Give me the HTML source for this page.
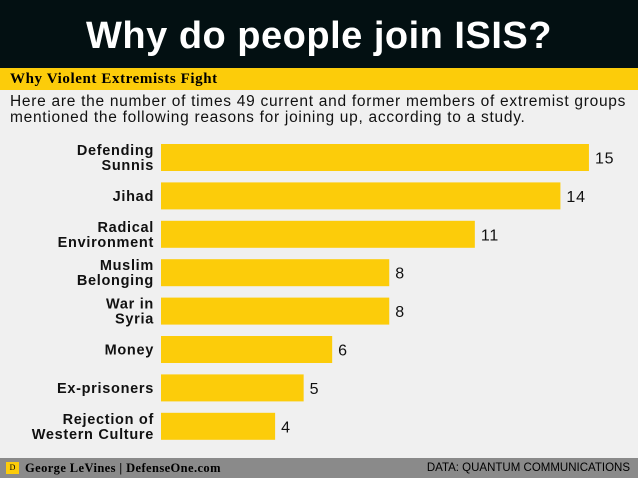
<!DOCTYPE html>
<html><head><meta charset="utf-8"><style>
body{margin:0;width:638px;height:478px;background:#f0f0f0;font-family:"Liberation Sans",sans-serif;position:relative;overflow:hidden}
#hdr{position:absolute;left:0;top:0;width:638px;height:68px;background:#031012;color:#fff;font-size:38px;text-align:center;line-height:72px;font-weight:bold;letter-spacing:0.5px}
#band{position:absolute;left:0;top:68px;width:638px;height:22px;background:#fccc0a;font-family:"Liberation Serif",serif;font-weight:bold;font-size:15px;line-height:22px;padding-left:10px;box-sizing:border-box;letter-spacing:0.6px}
#sub{position:absolute;left:10px;top:94px;font-size:15.5px;line-height:16px;color:#111;letter-spacing:0.72px;white-space:nowrap}
#ftr{position:absolute;left:0;top:458px;width:638px;height:20px;background:#8a8a8a;font-size:12px;line-height:20px}
</style></head><body>
<div id="hdr">Why do people join ISIS?</div>
<div id="band">Why Violent Extremists Fight</div>
<div id="sub">Here are the number of times 49 current and former members of extremist groups<br>mentioned the following reasons for joining up, according to a study.</div>
<svg id="chart" width="638" height="478" style="position:absolute;left:0;top:0"></svg>
<div id="ftr">
<span style="position:absolute;left:6px;top:4px;width:13px;height:12px;background:#fccc0a;font-family:'Liberation Serif',serif;font-size:8px;line-height:12px;text-align:center">D</span>
<span style="position:absolute;left:25px;font-family:'Liberation Serif',serif;font-weight:bold;font-size:12.5px;letter-spacing:0.4px">George LeVines | DefenseOne.com</span>
<span style="position:absolute;right:8px;font-size:11.5px">DATA: QUANTUM COMMUNICATIONS</span>
</div>
<script>
const categories=[["Defending","Sunnis"],["Jihad"],["Radical","Environment"],["Muslim","Belonging"],["War in","Syria"],["Money"],["Ex-prisoners"],["Rejection of","Western Culture"]];
const values=[15,14,11,8,8,6,5,4];
const svg=document.getElementById('chart');
const NS='http://www.w3.org/2000/svg';
const x0=161,unit=28.53,y0=144,pitch=38.4,bh=27;
const xs=v=>x0+v*unit;
const ys=i=>y0+i*pitch;
values.forEach((v,i)=>{
 const r=document.createElementNS(NS,'rect');
 r.setAttribute('x',x0);r.setAttribute('y',ys(i));r.setAttribute('width',xs(v)-x0);r.setAttribute('height',bh);r.setAttribute('fill','#fccc0a');
 
 
 svg.appendChild(r);
 const t=document.createElementNS(NS,'text');
 t.setAttribute('x',xs(v)+6);t.setAttribute('y',ys(i)+bh/2+6);t.setAttribute('font-size','16');t.setAttribute('letter-spacing','0.8');t.setAttribute('fill','#111');t.textContent=v;
 
 
 svg.appendChild(t);
 const lines=categories[i];
 lines.forEach((ln,j)=>{
  const c=document.createElementNS(NS,'text');
  const cy=ys(i)+bh/2+5+(lines.length===2?(j===0?-7.5:7.5):0);
  c.setAttribute('x',154);c.setAttribute('y',cy);c.setAttribute('text-anchor','end');c.setAttribute('font-size','14.5');c.setAttribute('letter-spacing','0.7');c.setAttribute('font-weight','bold');c.setAttribute('fill','#111');c.textContent=ln;
  
  
  svg.appendChild(c);
 });
});
</script>
</body></html>
